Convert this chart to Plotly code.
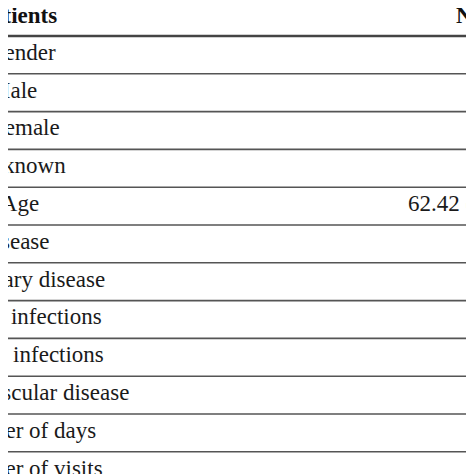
import plotly.graph_objects as go

# row labels (left column, partly cut off in the crop) and values (right column)
labels = ["Gender", "Male", "Female", "Unknown", "Mean Age", "Disease",
          "Pulmonary disease", "Skin infections", "Other infections",
          "Cardiovascular disease", "Number of days", "Number of visits"]
label_x = [-20, -18, -16, -33, -64, -30, -76, -45, -53, -90, -60, -60]
values = ["", "112", "", "", "62.42 (SD 14.2)", "", "", "", "", "", "", ""]
value_x = [0, 466, 0, 0, 400, 0, 0, 0, 0, 0, 0, 0]
header = ["Patients", "N = 200"]

row_y = [46 + 37.8 * i for i in range(len(labels))]
line_y = [28 + 37.8 * i for i in range(len(labels))]

font = dict(family="Liberation Serif", size=23, color="#1a1a1a")

fig = go.Figure()

# rule lines between rows
lx, ly = [], []
for y in line_y[1:]:
    lx += [-10, 490, None]
    ly += [y, y, None]
fig.add_trace(go.Scatter(x=lx, y=ly, mode="lines",
                         line=dict(color="#555555", width=1.6), hoverinfo="skip"))
fig.add_trace(go.Scatter(x=[-10, 490], y=[line_y[0], line_y[0]], mode="lines",
                         line=dict(color="#444444", width=2.4), hoverinfo="skip"))

# header
fig.add_trace(go.Scatter(x=[-30, 448], y=[9, 9], mode="text", text=header,
                         textposition="middle right",
                         textfont=dict(family="Liberation Serif", size=23, color="#111111",
                                       weight="bold")))
fig.add_trace(go.Scatter(x=label_x, y=row_y, mode="text", text=labels,
                         textposition="middle right", textfont=font))
vx = [x for x, v in zip(value_x, values) if v]
vy = [y for y, v in zip(row_y, values) if v]
fig.add_trace(go.Scatter(x=vx, y=vy, mode="text", text=[v for v in values if v],
                         textposition="middle right", textfont=font))

fig.update_xaxes(range=[0, 474], visible=False, fixedrange=True)
fig.update_yaxes(range=[474, 0], visible=False, fixedrange=True)
fig.update_layout(width=474, height=474, margin=dict(l=0, r=0, t=0, b=0),
                  showlegend=False, plot_bgcolor="white", paper_bgcolor="white")

fig.write_html("out.html")
